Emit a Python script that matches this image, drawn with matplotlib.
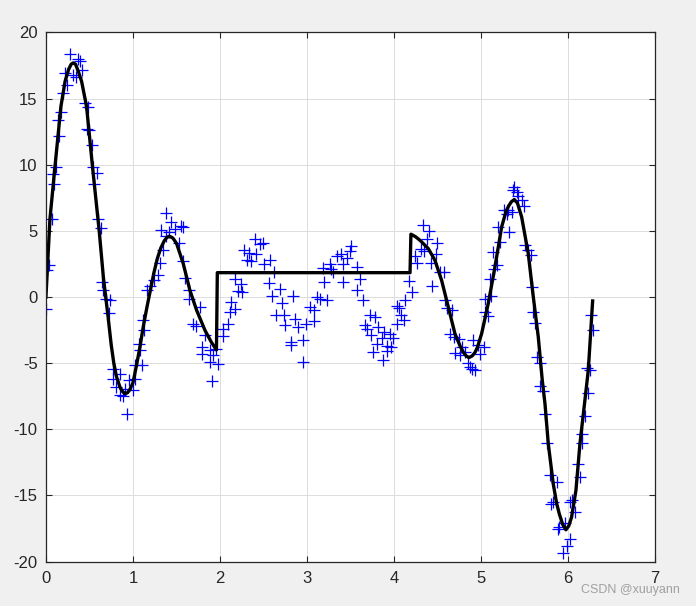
import numpy as np
import matplotlib
matplotlib.use("Agg")
import matplotlib.pyplot as plt

# krzywa, odcinek lewy, plaski i prawy
krzywa_x = [0.0, 0.046, 0.103, 0.172, 0.22, 0.26, 0.29, 0.314, 0.34, 0.37, 0.41, 0.467,
            0.536, 0.613, 0.66, 0.716, 0.75, 0.78, 0.81, 0.85, 0.88, 0.908, 0.935, 0.96,
            1.0, 1.04, 1.08, 1.12, 1.16, 1.2, 1.24, 1.28, 1.32, 1.36, 1.39, 1.418, 1.46,
            1.502, 1.578, 1.655, 1.732, 1.828, 1.90, 1.96,
            1.97, 4.185,
            4.195, 4.25, 4.299, 4.395, 4.471, 4.548, 4.625, 4.701, 4.76, 4.797, 4.83,
            4.862, 4.90, 4.931, 4.96, 5.008, 5.084, 5.161, 5.20, 5.238, 5.29, 5.32,
            5.35, 5.383, 5.42, 5.468, 5.544, 5.602, 5.659, 5.705, 5.736, 5.774, 5.831,
            5.87, 5.90, 5.94, 5.977, 6.01, 6.042, 6.092, 6.138, 6.195, 6.234, 6.284]
krzywa_y = [0.0, 5.9, 9.8, 14.4, 16.3, 17.2, 17.6, 17.7, 17.6, 17.1, 16.3, 14.4,
            9.8, 4.95, 1.5, -1.6, -3.6, -5.0, -6.0, -6.8, -7.15, -7.3, -7.25, -7.05,
            -6.5, -5.2, -3.8, -2.2, -0.8, 0.5, 1.8, 2.9, 3.7, 4.25, 4.5, 4.6, 4.45,
            4.04, 2.53, 0.5, -1.0, -2.52, -3.4, -4.0,
            1.84, 1.84,
            4.75, 4.55, 4.29, 3.66, 2.78, 1.26, -0.76, -2.77, -3.7, -4.16, -4.45,
            -4.58, -4.45, -4.2, -3.8, -2.77, -0.5, 2.27, 3.8, 5.3, 6.5, 6.9,
            7.2, 7.37, 7.1, 6.05, 3.28, 0.0, -3.02, -6.3, -8.06, -11.09, -14.12,
            -15.6, -16.38, -17.2, -17.6, -17.3, -16.64, -14.62, -11.09, -7.81, -5.54, -0.3]

# punkty pomiarowe (+), pogrupowane wg fragmentu wykresu
punkty_szczyt = [(0.28, 18.36), (0.39, 17.85), (0.37, 18.0), (0.42, 17.2), (0.22, 16.9),
                 (0.31, 16.77), (0.345, 16.6), (0.24, 16.0), (0.2, 15.4), (0.45, 14.7),
                 (0.48, 14.4), (0.17, 14.0), (0.14, 13.4), (0.47, 12.74), (0.5, 12.6),
                 (0.15, 12.15), (0.525, 11.5), (0.115, 9.83), (0.077, 9.33), (0.544, 9.83),
                 (0.583, 9.38), (0.555, 8.53), (0.092, 8.58), (0.065, 5.93), (0.601, 5.93),
                 (0.628, 5.25)]
punkty_dolina1 = [(0.038, 2.4), (0.015, 2.07), (0.0, -0.88), (0.64, 1.14), (0.66, 0.51),
                  (0.69, -0.12), (0.74, -0.2), (0.72, -1.21), (0.77, -5.42), (0.85, -5.8),
                  (0.77, -6.17), (0.96, -6.3), (0.8, -6.8), (0.91, -6.93), (0.85, -7.44),
                  (0.89, -7.51), (0.935, -8.87)]
punkty_garb = [(1.38, 6.35), (1.44, 5.67), (1.32, 5.1), (1.48, 5.17), (1.55, 5.35),
               (1.57, 5.3), (1.42, 4.92), (1.38, 4.59), (1.53, 4.09), (1.34, 3.53),
               (1.58, 2.72), (1.31, 2.57), (1.29, 1.64), (1.6, 1.47), (1.24, 1.26),
               (1.2, 0.81), (1.16, 0.56), (1.64, 0.51), (1.65, -0.12), (1.77, -0.76),
               (1.12, -1.76), (1.69, -2.01), (1.73, -2.22), (1.13, -2.47), (1.83, -2.9),
               (1.07, -3.58), (1.79, -3.78), (1.89, -4.03), (1.08, -4.03), (1.79, -4.33),
               (1.92, -4.41), (1.89, -4.92), (1.1, -5.17), (1.02, -5.17), (1.02, -6.17),
               (1.91, -6.33), (1.0, -7.06)]
punkty_srodek1 = [(2.4, 4.42), (2.46, 4.04), (2.5, 4.09), (2.28, 3.53), (2.33, 3.33),
                  (2.41, 3.28), (2.31, 2.83), (2.36, 2.72), (2.58, 2.78), (2.51, 2.53),
                  (2.62, 1.89), (2.17, 1.39), (2.24, 0.96), (2.56, 1.06), (2.69, 0.64),
                  (2.21, 0.45), (2.25, 0.38), (2.6, 0.05), (2.84, 0.05), (2.13, -0.38),
                  (2.71, -0.45), (2.17, -0.88), (2.12, -1.13), (2.65, -1.38), (2.74, -1.38),
                  (2.86, -1.63), (3.03, -0.76), (2.09, -2.01), (2.03, -2.39), (2.75, -2.14),
                  (2.9, -2.27), (2.99, -2.01), (2.04, -2.97), (2.82, -3.4), (2.95, -3.22),
                  (2.82, -3.65), (2.95, -4.92), (1.98, -5.04), (1.96, -3.9)]
punkty_srodek2 = [(3.51, 3.85), (3.49, 3.48), (3.39, 3.28), (3.34, 3.08), (3.46, 2.98),
                  (3.26, 2.53), (3.42, 2.47), (3.19, 2.22), (3.28, 2.15), (3.57, 2.27),
                  (3.3, 1.89), (3.61, 1.39), (3.2, 1.14), (3.41, 1.14), (3.57, 0.56),
                  (3.65, -0.2), (3.12, 0.0), (3.15, -0.12), (3.23, -0.2), (4.03, -0.71),
                  (4.06, -0.81), (3.08, -0.95), (4.08, -1.38), (3.72, -1.38), (3.78, -1.51),
                  (3.08, -1.82), (4.11, -1.76), (4.03, -2.06), (3.67, -2.14), (3.69, -2.39),
                  (3.82, -2.27), (3.74, -2.9), (3.89, -2.65), (3.95, -2.77), (3.86, -3.08),
                  (3.99, -3.08), (3.8, -3.53), (3.92, -3.73), (3.97, -3.78), (3.76, -4.16),
                  (3.92, -4.08), (3.87, -4.79)]
punkty_dolina2 = [(4.33, 5.42), (4.4, 4.99), (4.38, 4.42), (4.5, 4.09), (4.31, 3.66),
                  (4.34, 3.48), (4.48, 3.23), (4.24, 3.08), (4.43, 2.57), (4.26, 2.57),
                  (4.53, 1.89), (4.58, 1.89), (4.17, 1.21), (4.44, 0.81), (4.21, 0.38),
                  (4.59, -0.2), (4.13, -0.25), (4.61, -0.81), (4.67, -0.95), (4.64, -2.77),
                  (4.69, -3.02), (4.75, -3.15), (4.91, -3.27), (4.78, -3.78), (4.7, -4.24),
                  (4.82, -4.16), (4.76, -4.41), (4.85, -4.99), (4.87, -5.3), (4.93, -5.49),
                  (4.9, -5.45)]
punkty_garb2 = [(5.38, 8.32), (5.37, 8.07), (5.41, 7.94), (5.43, 7.62), (5.47, 7.31),
                (5.49, 6.86), (5.27, 6.61), (5.31, 6.56), (5.36, 6.43), (5.3, 6.31),
                (5.2, 5.3), (5.32, 4.92), (5.22, 4.16), (5.51, 3.91), (5.54, 3.53),
                (5.14, 3.4), (5.58, 3.15), (5.18, 2.4), (5.15, 2.15), (5.1, 1.39),
                (5.59, 0.76), (5.05, -0.12), (5.12, 0.05), (5.6, -1.13), (5.05, -1.13),
                (5.08, -1.46), (5.62, -1.97), (6.27, -1.38), (6.29, -2.47), (4.97, -3.65),
                (5.03, -3.78), (4.99, -4.33), (5.65, -4.54), (5.68, -4.99), (6.22, -5.34),
                (6.25, -5.49)]
punkty_dol = [(5.68, -6.75), (5.71, -7.11), (6.23, -7.26), (5.74, -8.82), (6.2, -9.02),
              (6.16, -10.33), (5.76, -11.04), (6.16, -11.04), (6.11, -12.66), (5.79, -13.49),
              (6.14, -13.62), (5.87, -14.0), (5.83, -15.51), (5.81, -15.68), (6.05, -15.38),
              (6.02, -15.5), (6.08, -16.26), (5.97, -17.1), (5.89, -17.52), (5.9, -17.4),
              (6.02, -18.28), (5.99, -18.79), (5.94, -19.37)]

x_ticki = [0, 1, 2, 3, 4, 5, 6, 7]
y_ticki = [-20, -15, -10, -5, 0, 5, 10, 15, 20]

plt.rcParams['font.family'] = ['Liberation Sans', 'DejaVu Sans']
plt.rcParams['axes.unicode_minus'] = False

fig = plt.figure(figsize=(6.96, 6.06), dpi=100, facecolor='#f0f0f0')
ax = fig.add_axes([0.066, 0.0734, 0.875, 0.873])
ax.set_facecolor('white')

grupy = [punkty_szczyt, punkty_dolina1, punkty_garb, punkty_srodek1,
         punkty_srodek2, punkty_dolina2, punkty_garb2, punkty_dol]
for g in grupy:
    p = np.array(g)
    ax.plot(p[:, 0], p[:, 1], '+', color='#0000ff', markersize=8, markeredgewidth=0.9)

ax.plot(krzywa_x, krzywa_y, '-', color='black', linewidth=2.4, solid_joinstyle='round')

ax.set_xlim(0, 7)
ax.set_ylim(-20, 20)
ax.set_xticks(x_ticki)
ax.set_yticks(y_ticki)
ax.grid(True, color='#dcdcdc', linewidth=0.7)
ax.set_axisbelow(True)
ax.tick_params(direction='in', length=4, width=0.8, colors='#262626',
               labelsize=12, top=True, right=True)
ax.tick_params(axis='x', pad=7)
ax.tick_params(axis='y', pad=6)
for s in ax.spines.values():
    s.set_color('#262626')
    s.set_linewidth(0.9)

fig.text(680 / 696, 1 - 593 / 606, 'CSDN @xuuyann', color='#a0a0a0', fontsize=9,
         ha='right', va='baseline')

fig.savefig('out.png', dpi=100, facecolor=fig.get_facecolor())
